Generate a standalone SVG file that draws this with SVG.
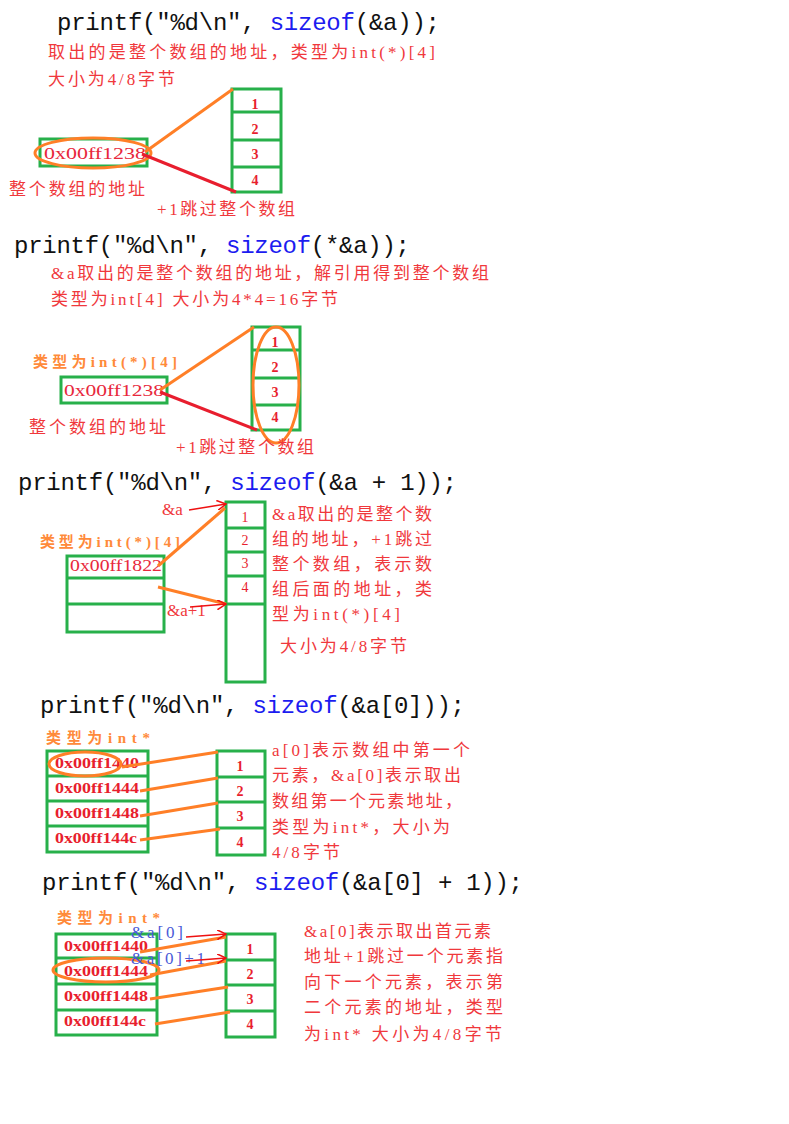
<svg xmlns="http://www.w3.org/2000/svg" width="789" height="1124" viewBox="0 0 789 1124">
<defs>
<marker id="ah" markerWidth="10" markerHeight="10" refX="9" refY="5" orient="auto" markerUnits="userSpaceOnUse"><path d="M0,0 L9,5 L0,10" fill="none" stroke="#ee1111" stroke-width="1.5"/></marker>
</defs>
<style>
.code{font-family:"Liberation Mono","DejaVu Sans Mono",monospace;font-size:24px;fill:#111}
.kw{fill:#1c1cf0}
.note{font-family:"Liberation Serif","Noto Sans CJK SC",serif;font-size:17px;fill:#f0383c}
.lbl{font-family:"Liberation Serif","Noto Sans CJK SC",serif;font-size:15px;fill:#ff8a3a;font-weight:bold}
.box{fill:none;stroke:#27b04a;stroke-width:3}
.num{font-family:"Liberation Serif",serif;font-size:14px;fill:#e81e2e;font-weight:bold;text-anchor:middle}
.numt{font-family:"Liberation Serif",serif;font-size:14px;fill:#e81e2e;text-anchor:middle}
.addr{font-family:"Liberation Serif",serif;font-size:17px;fill:#e8283c}
.addrb{font-family:"Liberation Serif",serif;font-size:14px;fill:#e81e2e;font-weight:bold}
.ol{stroke:#ff7f27;stroke-width:3;fill:none}
.rl{stroke:#e81e2e;stroke-width:3;fill:none}
.ra{stroke:#ee1111;stroke-width:1.5;fill:none;marker-end:url(#ah)}
.blue{font-family:"Liberation Serif",serif;font-size:17px;fill:#4a5ad8}
</style>

<g id="s1">
<text class="code" x="57" y="30" textLength="383">printf("%d\n", <tspan class="kw">sizeof</tspan>(&amp;a));</text>
<text class="note" x="48" y="58" textLength="387" lengthAdjust="spacing">取出的是整个数组的地址，类型为int(*)[4]</text>
<text class="note" x="48" y="85" textLength="127" lengthAdjust="spacing">大小为4/8字节</text>
<g id="arr1"><rect class="box" x="232" y="89" width="49" height="103"/>
<line class="box" x1="232" y1="112" x2="281" y2="112"/><line class="box" x1="232" y1="140" x2="281" y2="140"/><line class="box" x1="232" y1="167" x2="281" y2="167"/>
<text class="num" x="255" y="109">1</text><text class="num" x="255" y="134">2</text><text class="num" x="255" y="159">3</text><text class="num" x="255" y="185">4</text></g>
<g id="addr1"><rect class="box" x="40" y="139" width="107" height="27"/><text class="addr" x="44" y="159" textLength="102" lengthAdjust="spacingAndGlyphs">0x00ff1238</text>
<ellipse class="ol" cx="93" cy="153" rx="58" ry="15" stroke-width="2.5"/></g>
<text class="note" x="9" y="195" textLength="136" lengthAdjust="spacing">整个数组的地址</text>
<text class="note" x="157" y="215" textLength="138" lengthAdjust="spacing">+1跳过整个数组</text>
</g>

<g id="s2">
<text class="code" x="14" y="253" textLength="396">printf("%d\n", <tspan class="kw">sizeof</tspan>(*&amp;a));</text>
<text class="note" x="51" y="279" textLength="438" lengthAdjust="spacing">&amp;a取出的是整个数组的地址，解引用得到整个数组</text>
<text class="note" x="51" y="305" textLength="287" lengthAdjust="spacing">类型为int[4] 大小为4*4=16字节</text>
<text class="lbl" x="33" y="367" textLength="144" lengthAdjust="spacing">类型为int(*)[4]</text>
<g id="addr2"><rect class="box" x="61" y="377" width="106" height="26"/><text class="addr" x="64" y="396" textLength="100" lengthAdjust="spacingAndGlyphs">0x00ff1238</text></g>
<g id="arr2"><rect class="box" x="252" y="327" width="48" height="103"/>
<line class="box" x1="252" y1="350" x2="300" y2="350"/><line class="box" x1="252" y1="378" x2="300" y2="378"/><line class="box" x1="252" y1="405" x2="300" y2="405"/>
<text class="num" x="275" y="347">1</text><text class="num" x="275" y="372">2</text><text class="num" x="275" y="397">3</text><text class="num" x="275" y="422">4</text>
<ellipse class="ol" cx="276" cy="385" rx="23" ry="58"/></g>
<text class="note" x="29" y="433" textLength="137" lengthAdjust="spacing">整个数组的地址</text>
<text class="note" x="176" y="453" textLength="138" lengthAdjust="spacing">+1跳过整个数组</text>
</g>

<g id="s3">
<text class="code" x="18" y="490" textLength="439">printf("%d\n", <tspan class="kw">sizeof</tspan>(&amp;a + 1));</text>
<text class="note" x="162" y="515">&amp;a</text>
<text class="lbl" x="40" y="547" textLength="140" lengthAdjust="spacing">类型为int(*)[4]</text>
<g id="addr3"><rect class="box" x="67" y="556" width="97" height="76"/>
<line class="box" x1="67" y1="578" x2="164" y2="578"/><line class="box" x1="67" y1="604" x2="164" y2="604"/>
<text class="addr" x="70" y="571" font-size="15" textLength="92" lengthAdjust="spacingAndGlyphs">0x00ff1822</text></g>
<g id="arr3"><rect class="box" x="226" y="502" width="39" height="180"/>
<line class="box" x1="226" y1="528" x2="265" y2="528"/><line class="box" x1="226" y1="552" x2="265" y2="552"/><line class="box" x1="226" y1="576" x2="265" y2="576"/><line class="box" x1="226" y1="604" x2="265" y2="604"/>
<text class="numt" x="245" y="522">1</text><text class="numt" x="245" y="545">2</text><text class="numt" x="245" y="568">3</text><text class="numt" x="245" y="592">4</text></g>
<text class="note" x="167" y="616">&amp;a+1</text>
<text class="note" x="272" y="520" textLength="160" lengthAdjust="spacing">&amp;a取出的是整个数</text>
<text class="note" x="272" y="545" textLength="160" lengthAdjust="spacing">组的地址，+1跳过</text>
<text class="note" x="272" y="570" textLength="160" lengthAdjust="spacing">整个数组，表示数</text>
<text class="note" x="272" y="595" textLength="160" lengthAdjust="spacing">组后面的地址，类</text>
<text class="note" x="272" y="620" textLength="128" lengthAdjust="spacing">型为int(*)[4]</text>
<text class="note" x="280" y="652" textLength="127" lengthAdjust="spacing">大小为4/8字节</text>
</g>

<g id="s4">
<text class="code" x="40" y="713" textLength="425">printf("%d\n", <tspan class="kw">sizeof</tspan>(&amp;a[0]));</text>
<text class="lbl" x="46" y="743" textLength="104" lengthAdjust="spacing">类型为int*</text>
<g id="addr4"><rect class="box" x="47" y="751" width="101" height="101"/>
<line class="box" x1="47" y1="776" x2="148" y2="776"/><line class="box" x1="47" y1="801" x2="148" y2="801"/><line class="box" x1="47" y1="826" x2="148" y2="826"/>
<text class="addrb" x="55" y="768" textLength="84" lengthAdjust="spacingAndGlyphs">0x00ff1440</text><text class="addrb" x="55" y="793" textLength="84" lengthAdjust="spacingAndGlyphs">0x00ff1444</text><text class="addrb" x="55" y="818" textLength="84" lengthAdjust="spacingAndGlyphs">0x00ff1448</text><text class="addrb" x="55" y="843" textLength="82" lengthAdjust="spacingAndGlyphs">0x00ff144c</text>
<ellipse class="ol" cx="85" cy="764" rx="36" ry="12" stroke-width="2.5"/></g>
<g id="arr4"><rect class="box" x="217" y="751" width="48" height="104"/>
<line class="box" x1="217" y1="777" x2="265" y2="777"/><line class="box" x1="217" y1="802" x2="265" y2="802"/><line class="box" x1="217" y1="828" x2="265" y2="828"/>
<text class="num" x="240" y="771">1</text><text class="num" x="240" y="796">2</text><text class="num" x="240" y="821">3</text><text class="num" x="240" y="847">4</text></g>
<text class="note" x="272" y="756" textLength="198" lengthAdjust="spacing">a[0]表示数组中第一个</text>
<text class="note" x="272" y="781" textLength="189" lengthAdjust="spacing">元素，&amp;a[0]表示取出</text>
<text class="note" x="272" y="807" textLength="190" lengthAdjust="spacing">数组第一个元素地址，</text>
<text class="note" x="272" y="833" textLength="178" lengthAdjust="spacing">类型为int*，大小为</text>
<text class="note" x="272" y="858" textLength="68" lengthAdjust="spacing">4/8字节</text>
</g>

<g id="s5">
<text class="code" x="42" y="890" textLength="481">printf("%d\n", <tspan class="kw">sizeof</tspan>(&amp;a[0] + 1));</text>
<text class="lbl" x="57" y="923" textLength="103" lengthAdjust="spacing">类型为int*</text>
<g id="addr5"><rect class="box" x="56" y="934" width="101" height="101"/>
<line class="box" x1="56" y1="958" x2="157" y2="958"/><line class="box" x1="56" y1="984" x2="157" y2="984"/><line class="box" x1="56" y1="1010" x2="157" y2="1010"/>
<text class="addrb" x="64" y="951" textLength="84" lengthAdjust="spacingAndGlyphs">0x00ff1440</text><text class="addrb" x="64" y="976" textLength="84" lengthAdjust="spacingAndGlyphs">0x00ff1444</text><text class="addrb" x="64" y="1001" textLength="84" lengthAdjust="spacingAndGlyphs">0x00ff1448</text><text class="addrb" x="64" y="1026" textLength="82" lengthAdjust="spacingAndGlyphs">0x00ff144c</text>
<ellipse class="ol" cx="106" cy="970" rx="53" ry="12" stroke-width="2.5"/></g>
<text class="blue" x="131" y="938" textLength="52" lengthAdjust="spacing">&amp;a[0]</text>
<text class="blue" x="131" y="964" textLength="74" lengthAdjust="spacing">&amp;a[0]+1</text>
<g id="arr5"><rect class="box" x="226" y="934" width="49" height="103"/>
<line class="box" x1="226" y1="960" x2="275" y2="960"/><line class="box" x1="226" y1="985" x2="275" y2="985"/><line class="box" x1="226" y1="1011" x2="275" y2="1011"/>
<text class="num" x="250" y="954">1</text><text class="num" x="250" y="979">2</text><text class="num" x="250" y="1004">3</text><text class="num" x="250" y="1029">4</text></g>
<text class="note" x="304" y="937" textLength="187" lengthAdjust="spacing">&amp;a[0]表示取出首元素</text>
<text class="note" x="304" y="962" textLength="199" lengthAdjust="spacing">地址+1跳过一个元素指</text>
<text class="note" x="304" y="988" textLength="199" lengthAdjust="spacing">向下一个元素，表示第</text>
<text class="note" x="304" y="1013" textLength="199" lengthAdjust="spacing">二个元素的地址，类型</text>
<text class="note" x="304" y="1040" textLength="198" lengthAdjust="spacing">为int* 大小为4/8字节</text>
</g>

<g id="connectors">
<line class="ol" x1="145" y1="152" x2="233" y2="89"/>
<line class="rl" x1="142" y1="154" x2="236" y2="192"/>
<line class="ol" x1="160" y1="390" x2="254" y2="327"/>
<line class="rl" x1="160" y1="392" x2="257" y2="430"/>
<line class="ol" x1="158" y1="566" x2="225" y2="508"/>
<line class="ol" x1="158" y1="587" x2="226" y2="604"/>
<line class="ra" x1="189" y1="510" x2="226" y2="504"/>
<line class="ra" x1="190" y1="607" x2="226" y2="604"/>
<line class="ol" x1="122" y1="767" x2="218" y2="752"/>
<line class="ol" x1="140" y1="791" x2="218" y2="778"/>
<line class="ol" x1="140" y1="816" x2="218" y2="803"/>
<line class="ol" x1="140" y1="840" x2="220" y2="829"/>
<line class="ol" x1="140" y1="952" x2="226" y2="937"/>
<line class="ol" x1="150" y1="975" x2="226" y2="961"/>
<line class="ol" x1="150" y1="999" x2="228" y2="987"/>
<line class="ol" x1="155" y1="1024" x2="230" y2="1012"/>
<line class="ra" x1="186" y1="937" x2="226" y2="934"/>
<line class="ra" x1="186" y1="961" x2="226" y2="958"/>
</g>
</svg>
